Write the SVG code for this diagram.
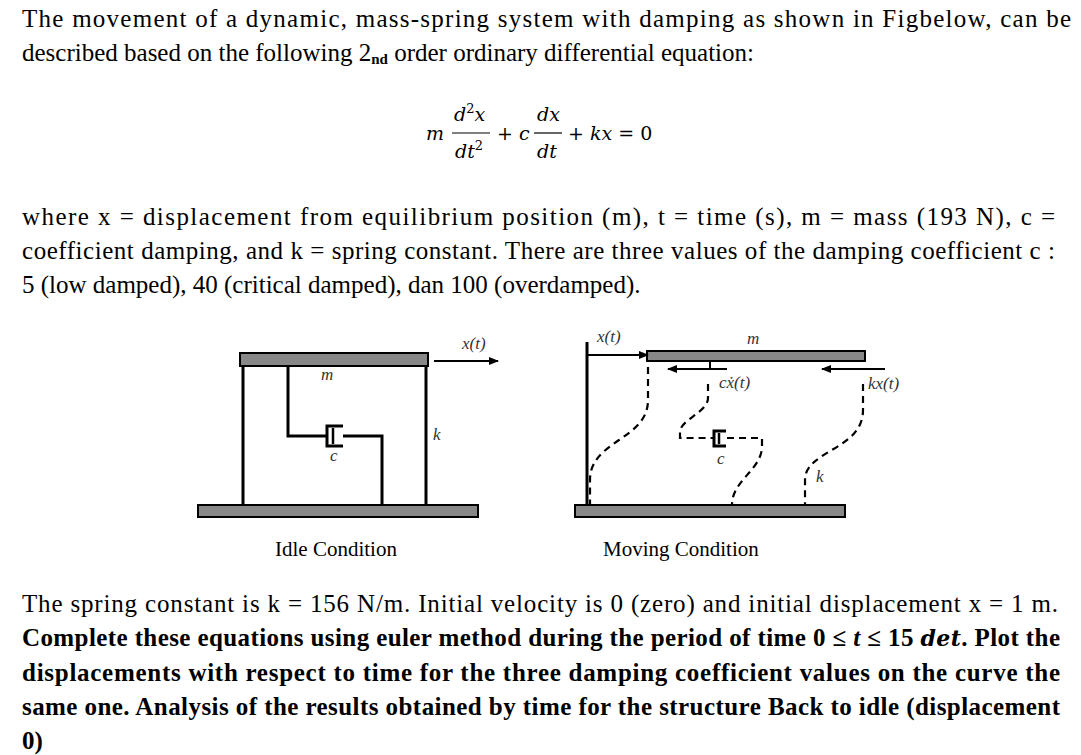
<svg xmlns="http://www.w3.org/2000/svg" width="1081" height="755" viewBox="0 0 1081 755">
<style>
.t{font-family:"Liberation Serif",serif;font-size:25px;fill:#000}
.b{font-weight:bold}
.e{font-family:"DejaVu Serif","Liberation Serif",serif;font-size:19px;font-style:italic}
.en{font-family:"DejaVu Serif","Liberation Serif",serif;font-size:19px}
.l{font-family:"Liberation Serif",serif;font-style:italic;font-size:17px;fill:#333}
.cap{font-family:"Liberation Serif",serif;font-size:21px}
.s{stroke:#000;stroke-width:3;fill:none}
.d{stroke:#000;stroke-width:2.2;fill:none;stroke-dasharray:7 5}
.bar{fill:#888;stroke:#000;stroke-width:2}
</style>
<defs><marker id="a" markerWidth="10" markerHeight="8" refX="9" refY="4" orient="auto" markerUnits="userSpaceOnUse"><path d="M0,0L10,4L0,8z" fill="#000"/></marker></defs>
<rect width="1081" height="755" fill="#fff"/>
<g id="text">
<text class="t" x="22" y="27" textLength="1049" lengthAdjust="spacing">The movement of a dynamic, mass-spring system with damping as shown in Figbelow, can be</text>
<text class="t" x="22" y="61">described based on the following 2<tspan font-size="15" dy="3" font-weight="bold">nd</tspan><tspan dy="-3"> order ordinary differential equation:</tspan></text>
<text class="t" x="22" y="225" textLength="1033" lengthAdjust="spacing">where x = displacement from equilibrium position (m), t = time (s), m = mass (193 N), c =</text>
<text class="t" x="22" y="259" textLength="1033" lengthAdjust="spacing">coefficient damping, and k = spring constant. There are three values of the damping coefficient c :</text>
<text class="t" x="22" y="293">5 (low damped), 40 (critical damped), dan 100 (overdamped).</text>
<text class="t" x="22" y="612" textLength="1036" lengthAdjust="spacing">The spring constant is k = 156 N/m. Initial velocity is 0 (zero) and initial displacement x = 1 m.</text>
<text class="t b" x="22" y="646" textLength="1038" lengthAdjust="spacing">Complete these equations using euler method during the period of time 0 ≤ <tspan font-style="italic">t</tspan> ≤ 15 <tspan font-family="DejaVu Serif" font-style="italic" font-size="22">det</tspan>. Plot the</text>
<text class="t b" x="22" y="681" textLength="1038" lengthAdjust="spacing">displacements with respect to time for the three damping coefficient values on the curve the</text>
<text class="t b" x="22" y="715" textLength="1038" lengthAdjust="spacing">same one. Analysis of the results obtained by time for the structure Back to idle (displacement</text>
<text class="t b" x="22" y="749">0)</text>
</g>
<g id="equation">
<text class="e" x="426" y="140">m</text>
<text class="e" x="454" y="121">d<tspan font-style="normal" font-size="13" dy="-8">2</tspan><tspan dy="8">x</tspan></text>
<line x1="452" y1="133" x2="490" y2="133" stroke="#000" stroke-width="1.2"/>
<text class="e" x="455" y="158">dt<tspan font-style="normal" font-size="13" dy="-8">2</tspan></text>
<text class="en" x="497" y="140">+ <tspan font-style="italic">c</tspan></text>
<text class="e" x="537" y="121">dx</text>
<line x1="534" y1="133" x2="562" y2="133" stroke="#000" stroke-width="1.2"/>
<text class="e" x="537" y="158">dt</text>
<text class="en" x="568" y="140">+ <tspan font-style="italic">kx</tspan> = 0</text>
</g>
<g id="idle">
<rect class="bar" x="198" y="505" width="280" height="12" stroke="none"/>
<rect class="bar" x="240" y="353" width="188" height="13"/>
<path class="s" d="M243,366V505M426,366V505M288,366V436H327M343,436H382V505"/>
<path class="s" d="M343,426H327V446H343" stroke-width="2.5"/>
<line x1="333" y1="428" x2="333" y2="444" stroke="#000" stroke-width="2.5"/>
<text class="l" x="321" y="380">m</text>
<text class="l" x="330" y="461" font-size="15">c</text>
<text class="l" x="433" y="440">k</text>
<text class="l" x="462" y="349">x(t)</text>
<line x1="434" y1="361" x2="498" y2="361" stroke="#000" stroke-width="2" marker-end="url(#a)"/>
<text class="cap" x="275" y="556">Idle Condition</text>
</g>
<g id="moving">
<rect class="bar" x="575" y="505" width="270" height="12" stroke="none"/>
<rect class="bar" x="647" y="351" width="218" height="10"/>
<line x1="587" y1="342" x2="587" y2="505" stroke="#000" stroke-width="3"/>
<line x1="587" y1="355" x2="648" y2="355" stroke="#000" stroke-width="2" marker-end="url(#a)"/>
<line x1="710" y1="361" x2="710" y2="369" stroke="#000" stroke-width="2"/>
<line x1="727" y1="369" x2="668" y2="369" stroke="#000" stroke-width="2" marker-end="url(#a)"/>
<line x1="885" y1="369" x2="822" y2="369" stroke="#000" stroke-width="2" marker-end="url(#a)"/>
<text class="l" x="597" y="342">x(t)</text>
<text class="l" x="747" y="344">m</text>
<text class="l" x="719" y="388">cẋ(t)</text>
<text class="l" x="868" y="389">kx(t)</text>
<text class="l" x="717" y="464" font-size="15">c</text>
<text class="l" x="816" y="482">k</text>
<path class="d" d="M648,367V400C648,440 590,440 590,480V505"/>
<path class="d" d="M708,384V398C708,412 680,420 680,432V438H714"/>
<path class="d" d="M727,438H762V446C762,470 732,480 732,505"/>
<path class="s" d="M726,431H714V446H726" stroke-width="2.5"/>
<line x1="719" y1="433" x2="719" y2="444" stroke="#000" stroke-width="2.5"/>
<path class="d" d="M863,384V410C863,450 805,450 805,480V505"/>
<text class="cap" x="603" y="556">Moving Condition</text>
</g>
</svg>
